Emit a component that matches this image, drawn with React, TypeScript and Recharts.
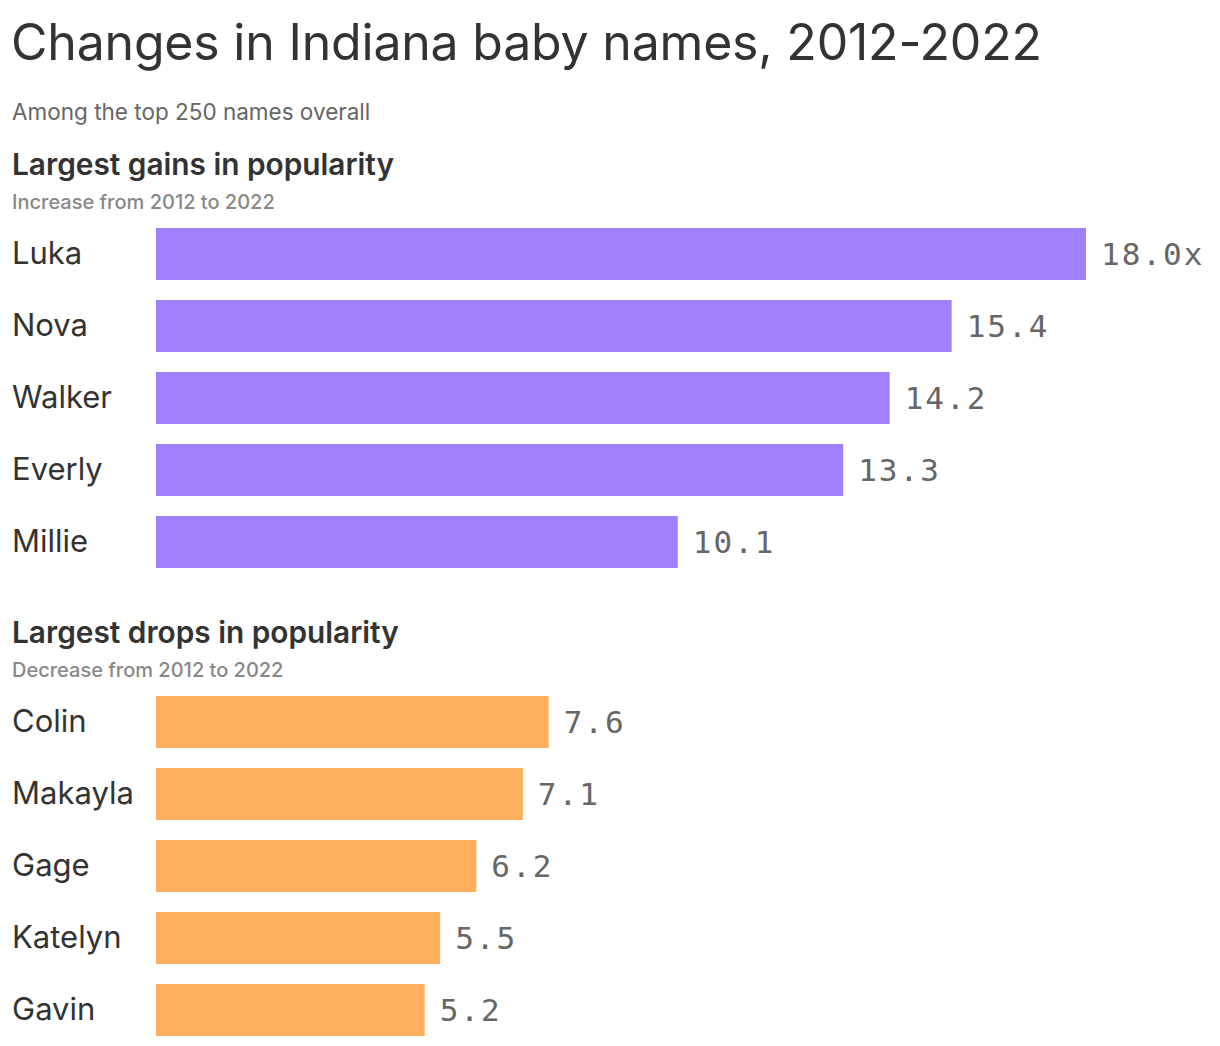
import { Bar, BarChart, LabelList, XAxis, YAxis } from "recharts";

const gainNames = ["Luka", "Nova", "Walker", "Everly", "Millie"];
const gainValues = [18.0, 15.4, 14.2, 13.3, 10.1];
const dropNames = ["Colin", "Makayla", "Gage", "Katelyn", "Gavin"];
const dropValues = [7.6, 7.1, 6.2, 5.5, 5.2];
const xDomain = [0, 18];

const SANS = "Inter, 'Noto Sans', sans-serif";
const MONO = "'DejaVu Sans Mono', 'Liberation Mono', monospace";

function NameTick({ y, payload }: any) {
  return (
    <text x={12} y={y} dy={10} fontFamily={SANS} fontSize={31} fill="#333" textAnchor="start">
      {payload.value}
    </text>
  );
}

function ValueLabel({ x, y, width, height, value, index, suffixFirst }: any) {
  const text = Number(value).toFixed(1) + (suffixFirst && index === 0 ? "x" : "");
  return (
    <text
      x={x + width + 15}
      y={y + height / 2}
      dy={11}
      fontFamily={MONO}
      fontSize={31}
      letterSpacing={2}
      fill="#666"
    >
      {text}
    </text>
  );
}

function NameBars({ names, values, color, suffixFirst }: { names: string[]; values: number[]; color: string; suffixFirst: boolean }) {
  const data = names.map((name, i) => ({ name, value: values[i] }));
  return (
    <BarChart
      width={1220}
      height={360}
      data={data}
      layout="vertical"
      margin={{ top: 0, right: 134, bottom: 0, left: 0 }}
    >
      <XAxis type="number" domain={xDomain} hide />
      <YAxis type="category" dataKey="name" width={156} axisLine={false} tickLine={false} tick={<NameTick />} />
      <Bar dataKey="value" fill={color} barSize={52} isAnimationActive={false}>
        <LabelList dataKey="value" content={(props: any) => <ValueLabel {...props} suffixFirst={suffixFirst} />} />
      </Bar>
    </BarChart>
  );
}

export default function App() {
  return (
    <div style={{ position: "relative", width: 1220, height: 1046, background: "#fff", fontFamily: SANS }}>
      <style>{`body{margin:0}`}</style>
      <div style={{ position: "absolute", left: 11, top: 12, fontSize: 50, color: "#333", letterSpacing: -0.2, whiteSpace: "nowrap" }}>
        Changes in Indiana baby names, 2012-2022
      </div>
      <div style={{ position: "absolute", left: 12, top: 98, fontSize: 22.5, color: "#666", whiteSpace: "nowrap" }}>
        Among the top 250 names overall
      </div>
      <div style={{ position: "absolute", left: 12, top: 146, fontSize: 29.8, fontWeight: 600, color: "#333", whiteSpace: "nowrap" }}>
        Largest gains in popularity
      </div>
      <div style={{ position: "absolute", left: 12, top: 190, fontSize: 20, fontWeight: 500, color: "#888", whiteSpace: "nowrap" }}>
        Increase from 2012 to 2022
      </div>
      <div style={{ position: "absolute", left: 0, top: 218 }}>
        <NameBars names={gainNames} values={gainValues} color="#a080ff" suffixFirst />
      </div>
      <div style={{ position: "absolute", left: 12, top: 614, fontSize: 29.8, fontWeight: 600, color: "#333", whiteSpace: "nowrap" }}>
        Largest drops in popularity
      </div>
      <div style={{ position: "absolute", left: 12, top: 658, fontSize: 20, fontWeight: 500, color: "#888", whiteSpace: "nowrap" }}>
        Decrease from 2012 to 2022
      </div>
      <div style={{ position: "absolute", left: 0, top: 686 }}>
        <NameBars names={dropNames} values={dropValues} color="#ffaf5e" suffixFirst={false} />
      </div>
    </div>
  );
}
